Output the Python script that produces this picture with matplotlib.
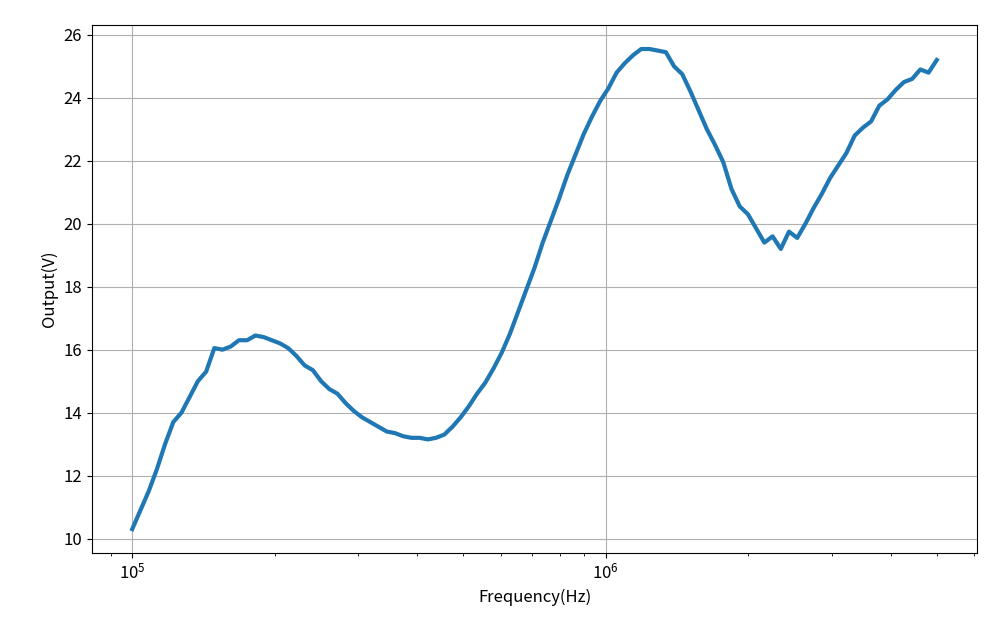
import numpy as np
import matplotlib
matplotlib.use('Agg')
import matplotlib.pyplot as plt

plt.rcParams['font.family'] = ['Noto Sans CJK SC', 'DejaVu Sans']
plt.rcParams['axes.unicode_minus'] = False

output_v = [
    10.3, 10.9, 11.5, 12.2, 13.0, 13.7, 14.0, 14.5, 15.0, 15.3,
    16.05, 16.0, 16.1, 16.3, 16.3, 16.45, 16.4, 16.3, 16.2, 16.05,
    15.8, 15.5, 15.35, 15.0, 14.75, 14.6, 14.3, 14.05, 13.85, 13.7,
    13.55, 13.4, 13.35, 13.25, 13.2, 13.2, 13.15, 13.2, 13.3, 13.55,
    13.85, 14.2, 14.6, 14.95, 15.4, 15.9, 16.5, 17.2, 17.9, 18.6,
    19.4, 20.1, 20.8, 21.55, 22.2, 22.85, 23.4, 23.9, 24.3, 24.8,
    25.1, 25.35, 25.55, 25.55, 25.5, 25.45, 25.0, 24.75, 24.2, 23.6,
    23.0, 22.5, 21.95, 21.1, 20.55, 20.3, 19.85, 19.4, 19.6, 19.2,
    19.75, 19.55, 20.0, 20.5, 20.95, 21.45, 21.85, 22.25, 22.8, 23.05,
    23.25, 23.75, 23.95, 24.25, 24.5, 24.6, 24.9, 24.8, 25.2,
]
freq_start, freq_stop = 1e5, 5e6
freq = np.logspace(np.log10(freq_start), np.log10(freq_stop), len(output_v))

fig, ax = plt.subplots(figsize=(10, 6.25), dpi=100)
fig.subplots_adjust(left=0.092, right=0.977, top=0.96, bottom=0.115)
ax.plot(freq, output_v, color='#1f77b4', linewidth=3)
ax.set_xscale('log')
ax.set_yticks(np.arange(10, 27, 2))
ax.grid(True, which='major', color='#b0b0b0')
ax.set_xlabel('Frequency(Hz)', fontsize=12)
ax.set_ylabel('Output(V)', fontsize=12)
ax.tick_params(labelsize=12)
fig.savefig('out.png')
